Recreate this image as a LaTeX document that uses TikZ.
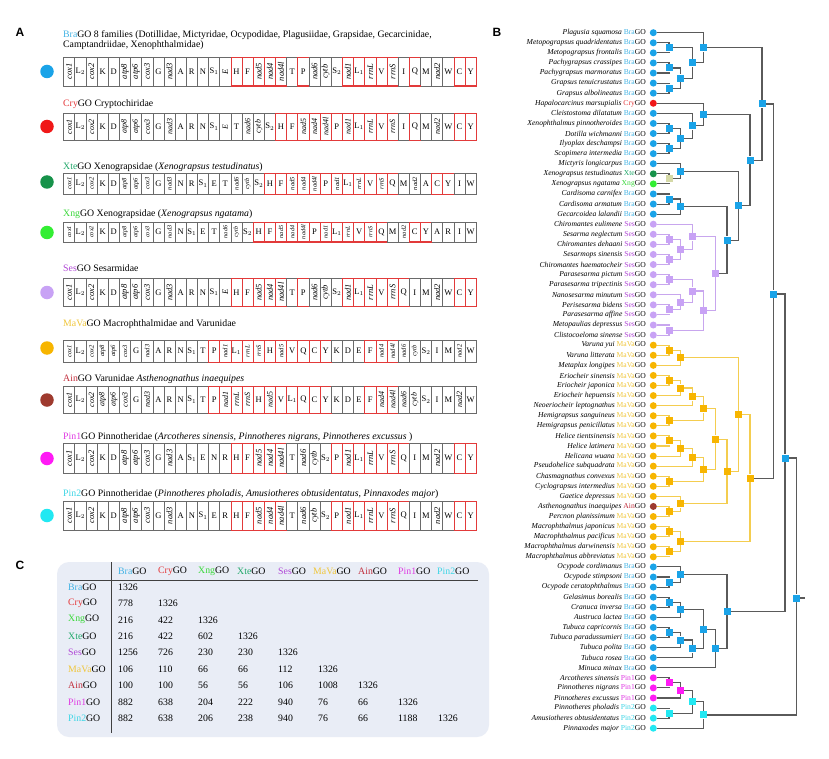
\documentclass[tikz,border=0pt]{standalone}
\usepackage{fontspec}
\setmainfont{Liberation Serif}
\setsansfont{Liberation Sans}

\definecolor{braDot}{HTML}{1AA3E8}
\definecolor{braTxt}{HTML}{45B4E5}
\definecolor{cryDot}{HTML}{F01818}
\definecolor{cryTxt}{HTML}{E5393B}
\definecolor{xteDot}{HTML}{17924A}
\definecolor{xteTxt}{HTML}{21A86A}
\definecolor{xngDot}{HTML}{33EE33}
\definecolor{xngTxt}{HTML}{3AD83A}
\definecolor{sesDot}{HTML}{C8A2F5}
\definecolor{sesTxt}{HTML}{B047D6}
\definecolor{mavaDot}{HTML}{F7B500}
\definecolor{mavaTxt}{HTML}{F0C63A}
\definecolor{ainDot}{HTML}{9E3A2E}
\definecolor{ainTxt}{HTML}{C22F3D}
\definecolor{pinADot}{HTML}{FF1AF5}
\definecolor{pinATxt}{HTML}{E03BE3}
\definecolor{pinBDot}{HTML}{22E8F2}
\definecolor{pinBTxt}{HTML}{3ED6E6}
\definecolor{xenoDot}{HTML}{D5D9A6}
\definecolor{sesLine}{HTML}{C8A6EE}
\definecolor{mavaLine}{HTML}{F4CD4F}
\definecolor{lineC}{HTML}{5A5A5A}
\definecolor{boxC}{HTML}{6A6A6A}
\definecolor{redC}{HTML}{E23A3A}
\definecolor{tblbg}{HTML}{E9EDF6}

\tikzset{
  gbox/.style={draw=boxC, line width=0.6pt, minimum width=11.15pt, inner sep=0pt, anchor=north west, font=\fontsize{8.5}{8.5}\selectfont},
  gboxb/.style={gbox},
  gboxr/.style={gbox, draw=redC},
  redbar/.style={draw=redC, line width=1.6pt},
  adot/.style={circle, inner sep=0pt, minimum size=13.5pt},
  ttl/.style={anchor=west, inner sep=0pt, font=\fontsize{9.8}{10.5}\selectfont},
  panel/.style={inner sep=0pt, font=\sffamily\bfseries\fontsize{12}{12}\selectfont},
  leaf/.style={circle, inner sep=0pt, minimum size=7pt},
  inode/.style={rectangle, inner sep=0pt, minimum size=7pt},
  tiplab/.style={anchor=east, inner sep=0pt, font=\fontsize{7.6}{8}\selectfont},
  br/.style={draw=lineC, line width=1.1pt},
  brs/.style={draw=sesLine, line width=1.1pt},
  brm/.style={draw=mavaLine, line width=1.1pt},
  cell/.style={anchor=west, inner sep=0pt, font=\fontsize{9.8}{10}\selectfont},
  tblline/.style={draw=black!75, line width=1pt}
}

\newcommand{\grot}[1]{\rotatebox{90}{\fontsize{\rotfs}{\rotfs}\selectfont\itshape #1}}
\newcommand{\generow}[6]{%
  \def\rotfs{#4}%
  \foreach \g/\k [count=\i] in {#5} {
    \draw ({63.3 + (\i - 1) * 11.15}, #2) node[gbox\k, minimum height=#3] (#1\i) {\g};
  }
  \foreach \a/\b in {#6} {
    \draw[redbar] (#1\a.south west) -- (#1\b.south east);
  }
}

\begin{document}
\begin{tikzpicture}[x=1pt, y=-1pt]
    \fill[white] (0, 0) rectangle (829, 759);
    \useasboundingbox (0, 0) rectangle (829, 759);

    \draw (20, 32.7) node[panel] (pA) {A};
    \draw (497, 32.7) node[panel] (pB) {B};
    \draw (20, 565) node[panel] (pC) {C};

    % panel A
    \draw (63, 40.2) node[ttl, align=left] (ttlBra) {\textcolor{braTxt}{Bra}GO 8 families (Dotillidae, Mictyridae, Ocypodidae, Plagusiidae, Grapsidae, Gecarcinidae,\\Camptandriidae, Xenophthalmidae)};
    \draw (63, 104) node[ttl] (ttlCry) {\textcolor{cryTxt}{Cry}GO Cryptochiridae};
    \draw (63, 166.7) node[ttl] (ttlXte) {\textcolor{xteTxt}{Xte}GO Xenograpsidae (\textit{Xenograpsus testudinatus})};
    \draw (63, 214) node[ttl] (ttlXng) {\textcolor{xngTxt}{Xng}GO Xenograpsidae (\textit{Xenograpsus ngatama})};
    \draw (63, 268) node[ttl] (ttlSes) {\textcolor{sesTxt}{Ses}GO Sesarmidae};
    \draw (63, 324) node[ttl] (ttlMaVa) {\textcolor{mavaTxt}{MaVa}GO Macrophthalmidae and Varunidae};
    \draw (63, 379) node[ttl] (ttlAin) {\textcolor{ainTxt}{Ain}GO Varunidae \textit{Asthenognathus inaequipes}};
    \draw (63, 436.7) node[ttl] (ttlPinA) {\textcolor{pinATxt}{Pin1}GO Pinnotheridae (\textit{Arcotheres sinensis, Pinnotheres nigrans, Pinnotheres excussus} )};
    \draw (63, 494.5) node[ttl] (ttlPinB) {\textcolor{pinBTxt}{Pin2}GO Pinnotheridae (\textit{Pinnotheres pholadis, Amusiotheres obtusidentatus, Pinnaxodes major})};

    \foreach \c/\y in {bra/71.5, cry/126.5, xte/182, xng/232.5, ses/292.5, mava/348, ain/400, pinA/458.5, pinB/515.5}
        \draw (47, \y) node[adot, fill=\c Dot] (d\c) {};

    \generow{bra}{56.7}{29pt}{8.5}{\grot{cox1}/b, L$_2$/b, \grot{cox2}/b, K/b, D/b, \grot{atp8}/b, \grot{atp6}/b, \grot{cox3}/b, G/b, \grot{nad3}/b, A/b, R/b, N/b, S$_1$/b, \grot{E}/b, H/r, F/r, \grot{nad5}/r, \grot{nad4}/r, \grot{nad4l}/r, T/b, P/r, \grot{nad6}/b, \grot{cytb}/b, S$_2$/b, \grot{nad1}/r, L$_1$/r, \grot{rrnL}/r, V/r, \grot{rrnS}/r, I/b, Q/r, M/b, \grot{nad2}/b, W/b, C/r, Y/r}{16/20, 22/22, 26/30, 32/32, 36/37}
    \generow{cry}{112.7}{27.3pt}{8}{\grot{cox1}/b, L$_2$/b, \grot{cox2}/b, K/b, D/b, \grot{atp8}/b, \grot{atp6}/b, \grot{cox3}/b, G/b, \grot{nad3}/b, A/b, R/b, N/b, S$_1$/b, \grot{E}/b, T/b, \grot{nad6}/b, \grot{cytb}/b, S$_2$/b, H/r, F/r, \grot{nad5}/r, \grot{nad4}/r, \grot{nad4l}/r, P/r, \grot{nad1}/r, L$_1$/r, \grot{rrnL}/r, V/r, \grot{rrnS}/r, I/b, Q/r, M/b, \grot{nad2}/b, W/b, C/r, Y/r}{20/30, 32/32, 36/37}
    \generow{xte}{172.7}{21.3pt}{6.5}{\grot{cox1}/b, L$_2$/b, \grot{cox2}/b, K/b, D/b, \grot{atp8}/b, \grot{atp6}/b, \grot{cox3}/b, G/b, \grot{nad3}/b, N/b, R/b, S$_1$/b, E/b, T/b, \grot{nad6}/b, \grot{cytb}/b, S$_2$/b, H/r, F/r, \grot{nad5}/r, \grot{nad4}/r, \grot{nad4l}/r, P/r, \grot{nad1}/r, L$_1$/r, \grot{rrnL}/r, V/r, \grot{rrnS}/r, Q/r, M/b, \grot{nad2}/b, A/b, C/r, Y/r, I/b, W/b}{19/30, 34/35}
    \generow{xng}{221.7}{20pt}{6.2}{\grot{cox1}/b, L$_2$/b, \grot{cox2}/b, K/b, D/b, \grot{atp8}/b, \grot{atp6}/b, \grot{cox3}/b, G/b, \grot{nad3}/b, N/b, S$_1$/b, E/b, T/b, \grot{nad6}/b, \grot{cytb}/b, S$_2$/b, H/r, F/r, \grot{nad5}/r, \grot{nad4}/r, \grot{nad4l}/r, P/r, \grot{nad1}/r, L$_1$/r, \grot{rrnL}/r, V/r, \grot{rrnS}/r, Q/r, M/b, \grot{nad2}/b, C/r, Y/r, A/b, R/b, I/b, W/b}{18/29, 32/33}
    \generow{ses}{278}{28pt}{8.5}{\grot{cox1}/b, L$_2$/b, \grot{cox2}/b, K/b, D/b, \grot{atp8}/b, \grot{atp6}/b, \grot{cox3}/b, G/b, \grot{nad3}/b, A/b, R/b, N/b, S$_1$/b, \grot{E}/b, H/r, F/r, \grot{nad5}/r, \grot{nad4}/r, \grot{nad4l}/r, T/b, P/r, \grot{nad6}/b, \grot{cytb}/b, S$_2$/b, \grot{nad1}/r, L$_1$/r, \grot{rrnL}/r, V/r, \grot{rrnS}/r, Q/r, I/b, M/b, \grot{nad2}/b, W/b, C/r, Y/r}{16/20, 22/22, 26/31, 36/37}
    \generow{mava}{340}{21.7pt}{6.5}{\grot{cox1}/b, L$_2$/b, \grot{cox2}/b, \grot{atp8}/b, \grot{atp6}/b, \grot{cox3}/b, G/b, \grot{nad3}/b, A/b, R/b, N/b, S$_1$/b, T/b, P/r, \grot{nad1}/r, L$_1$/r, \grot{rrnL}/r, \grot{rrnS}/r, H/r, \grot{nad5}/r, V/r, Q/r, C/r, Y/r, K/b, D/b, E/b, F/r, \grot{nad4}/r, \grot{nad4l}/r, \grot{nad6}/b, \grot{cytb}/b, S$_2$/b, I/b, M/b, \grot{nad2}/b, W/b}{14/24}
    \generow{ain}{386}{26.7pt}{8}{\grot{cox1}/b, L$_2$/b, \grot{cox2}/b, \grot{atp8}/b, \grot{atp6}/b, \grot{cox3}/b, G/b, \grot{nad3}/b, A/b, R/b, N/b, S$_1$/b, T/b, P/r, \grot{nad1}/r, \grot{rrnL}/r, \grot{rrnS}/r, H/r, \grot{nad5}/r, V/r, L$_1$/r, Q/r, C/r, Y/r, K/b, D/b, E/b, F/r, \grot{nad4}/r, \grot{nad4l}/r, \grot{nad6}/b, \grot{cytb}/b, S$_2$/b, I/b, M/b, \grot{nad2}/b, W/b}{14/24}
    \generow{pinA}{443}{29.7pt}{8.5}{\grot{cox1}/b, L$_2$/b, \grot{cox2}/b, K/b, D/b, \grot{atp8}/b, \grot{atp6}/b, \grot{cox3}/b, G/b, \grot{nad3}/b, A/b, S$_1$/b, E/b, N/b, R/b, H/r, F/r, \grot{nad5}/r, \grot{nad4}/r, \grot{nad4l}/r, T/b, \grot{nad6}/b, \grot{cytb}/b, S$_2$/b, P/r, \grot{nad1}/r, L$_1$/r, \grot{rrnL}/r, V/r, \grot{rrnS}/r, Q/r, I/b, M/b, \grot{nad2}/b, W/b, C/r, Y/r}{16/20, 25/31, 36/37}
    \generow{pinB}{500.7}{29.3pt}{8.5}{\grot{cox1}/b, L$_2$/b, \grot{cox2}/b, K/b, D/b, \grot{atp8}/b, \grot{atp6}/b, \grot{cox3}/b, G/b, \grot{nad3}/b, A/b, N/b, S$_1$/b, E/b, R/b, H/r, F/r, \grot{nad5}/r, \grot{nad4}/r, \grot{nad4l}/r, T/b, \grot{nad6}/b, \grot{cytb}/b, S$_2$/b, P/r, \grot{nad1}/r, L$_1$/r, \grot{rrnL}/r, V/r, \grot{rrnS}/r, Q/r, I/b, M/b, \grot{nad2}/b, W/b, C/r, Y/r}{16/20, 25/31, 36/37}

    % panel C
    \fill[tblbg, rounded corners=12pt] (57, 562) rectangle (489, 737);
    \draw[tblline] (111, 562) -- (111, 733);
    \draw[tblline] (70, 580.7) -- (478, 580.7);
    \foreach \n/\c/\x [count=\j] in {Bra/bra/118, Cry/cry/158, Xng/xng/198, Xte/xte/237, Ses/ses/278, MaVa/mava/313, Ain/ain/358, Pin1/pinA/398, Pin2/pinB/437} {
        \draw (\x, 571.7) node[cell] (h\j) {\textcolor{\c Txt}{\n}GO};
        \draw (68, {587 + (\j - 1) * 16.4}) node[cell] (r\j) {\textcolor{\c Txt}{\n}GO};
    }
    \foreach \vals [count=\j] in {{1326}, {778, 1326}, {216, 422, 1326}, {216, 422, 602, 1326}, {1256, 726, 230, 230, 1326}, {106, 110, 66, 66, 112, 1326}, {100, 100, 56, 56, 106, 1008, 1326}, {882, 638, 204, 222, 940, 76, 66, 1326}, {882, 638, 206, 238, 940, 76, 66, 1188, 1326}}
        \foreach \v [count=\k] in \vals
            \draw ({118 + (\k - 1) * 40}, {587 + (\j - 1) * 16.4}) node[cell] (v\j-\k) {\v};

    % panel B
    \foreach \sp/\gp/\pf [count=\i] in {Plagusia squamosa/bra/Bra, Metopograpsus quadridentatus/bra/Bra, Metopograpsus frontalis/bra/Bra, Pachygrapsus crassipes/bra/Bra, Pachygrapsus marmoratus/bra/Bra, Grapsus tenuicrustatus/bra/Bra, Grapsus albolineatus/bra/Bra, Hapalocarcinus marsupialis/cry/Cry, Cleistostoma dilatatum/bra/Bra, Xenophthalmus pinnotheroides/bra/Bra, Dotilla wichmanni/bra/Bra, Ilyoplax deschampsi/bra/Bra, Scopimera intermedia/bra/Bra, Mictyris longicarpus/bra/Bra, Xenograpsus testudinatus/xte/Xte, Xenograpsus ngatama/xng/Xng, Cardisoma carnifex/bra/Bra, Cardisoma armatum/bra/Bra, Gecarcoidea lalandii/bra/Bra, Chiromantes eulimene/ses/Ses, Sesarma neglectum/ses/Ses, Chiromantes dehaani/ses/Ses, Sesarmops sinensis/ses/Ses, Chiromantes haematocheir/ses/Ses, Parasesarma pictum/ses/Ses, Parasesarma tripectinis/ses/Ses, Nanosesarma minutum/ses/Ses, Perisesarma bidens/ses/Ses, Parasesarma affine/ses/Ses, Metopaulias depressus/ses/Ses, Clistocoeloma sinense/ses/Ses, Varuna yui/mava/MaVa, Varuna litterata/mava/MaVa, Metaplax longipes/mava/MaVa, Eriocheir sinensis/mava/MaVa, Eriocheir japonica/mava/MaVa, Eriocheir hepuensis/mava/MaVa, Neoeriocheir leptognathus/mava/MaVa, Hemigrapsus sanguineus/mava/MaVa, Hemigrapsus penicillatus/mava/MaVa, Helice tientsinensis/mava/MaVa, Helice latimera/mava/MaVa, Helicana wuana/mava/MaVa, Pseudohelice subquadrata/mava/MaVa, Chasmagnathus convexus/mava/MaVa, Cyclograpsus intermedius/mava/MaVa, Gaetice depressus/mava/MaVa, Asthenognathus inaequipes/ain/Ain, Percnon planissimum/mava/MaVa, Macrophthalmus japonicus/mava/MaVa, Macrophthalmus pacificus/mava/MaVa, Macrophthalmus darwinensis/mava/MaVa, Macrophthalmus abbreviatus/mava/MaVa, Ocypode cordimanus/bra/Bra, Ocypode stimpsoni/bra/Bra, Ocypode ceratophthalmus/bra/Bra, Gelasimus borealis/bra/Bra, Cranuca inversa/bra/Bra, Austruca lactea/bra/Bra, Tubuca capricornis/bra/Bra, Tubuca paradussumieri/bra/Bra, Tubuca polita/bra/Bra, Tubuca rosea/bra/Bra, Minuca minax/bra/Bra, Arcotheres sinensis/pinA/Pin1, Pinnotheres nigrans/pinA/Pin1, Pinnotheres excussus/pinA/Pin1, Pinnotheres pholadis/pinB/Pin2, Amusiotheres obtusidentatus/pinB/Pin2, Pinnaxodes major/pinB/Pin2} {
        \draw (653.3, {32.7 + (\i - 1) * 10.08}) node[leaf, fill=\gp Dot] (t\i) {};
        \draw (646, {32.7 + (\i - 1) * 10.08}) node[tiplab] (l\i) {\textit{\sp} \textcolor{\gp Txt}{\pf}GO};
    }

    \foreach \n/\x/\y/\c in {a23/669/47.82/bra, a45/669/67.98/bra, a67/669/88.14/bra, a47/680.7/78.06/bra, a27/692.3/62.94/bra, a17/703.7/47.82/bra,
        b1011/669/128.46/bra, b1213/669/148.62/bra, b1013/680.7/138.54/bra, b913/692.3/125.94/bra, b813/703.7/114.6/bra,
        c1516/669/178.86/xeno, c1416/680.7/171.3/bra, d1718/669/199.02/bra, d1719/680.7/206.58/bra,
        s2122/669/239.34/ses, s2324/669/259.5/ses, s2124/680.7/249.42/ses, s2024/692.3/236.82/ses, s2526/669/279.66/ses, s2829/669/309.9/ses, s2729/680.7/302.34/ses, s2529/692.3/291/ses, s3031/669/330.06/ses, s2531/703.7/310.53/ses, s2031/715.5/273.68/ses,
        e1731/727/240.13/bra, e1431/738.5/205.72/bra, e831/750/160.16/bra, e131/762/103.99/bra,
        m3233/669/350.22/mava, m3234/680.7/357.78/mava, m3536/669/380.46/mava, m3537/680.7/388.02/mava, m3538/692.3/396.84/mava, m3940/669/420.78/mava, m3540/703.7/408.81/mava, m4142/669/440.94/mava, m4143/680.7/448.5/mava, m4144/692.3/457.32/mava, m4546/669/481.26/mava, m4146/703.7/469.29/mava, m3546/715.5/439.05/mava, m4849/669/511.5/mava, m4749/680.7/503.94/mava, m3549/727/471.5/mava, m3249/738.5/414.64/mava, m5051/669/531.66/mava, m5253/669/551.82/mava, m5053/680.7/541.74/mava, m3253/750/478.19/mava,
        f153/773.5/294/bra,
        g5556/669/582.06/bra, g5456/680.7/574.5/bra, g5758/669/602.22/bra, g5759/680.7/609.78/bra, g6061/669/632.46/bra, g6062/680.7/640.02/bra, g6063/692.3/648.84/bra, g5763/703.7/629.31/bra, g5764/715.5/648.53/bra, g5464/727/611.51/bra,
        h164/785/458/bra,
        p6566/669/682.86/pinA, p6567/680.7/690.42/pinA, p6869/669/713.1/pinB, p6569/692.3/701.76/pinB, p6570/703.7/714.99/pinB,
        root/796.7/598/bra}
        \draw (\x, \y) node[inode, fill=\c Dot] (\n) {};

    \foreach \a/\b in {t1/a17, t2/a23, t3/a23, t4/a45, t5/a45, t6/a67, t7/a67, a45/a47, a67/a47, a23/a27, a47/a27, a27/a17, a17/e131, e831/e131,
        t8/b813, t9/b913, t10/b1011, t11/b1011, t12/b1213, t13/b1213, b1011/b1013, b1213/b1013, b1013/b913, b913/b813, b813/e831, e1431/e831,
        t14/c1416, t15/c1516, t16/c1516, c1516/c1416, c1416/e1431, e1731/e1431,
        t17/d1718, t18/d1718, d1718/d1719, t19/d1719, d1719/e1731, s2031/e1731,
        e131/f153, m3253/f153, f153/h164, g5464/h164,
        t54/g5456, t55/g5556, t56/g5556, g5556/g5456, t57/g5758, t58/g5758, g5758/g5759, t59/g5759, t60/g6061, t61/g6061, g6061/g6062, t62/g6062, g6062/g6063, t63/g6063, g5759/g5763, g6063/g5763, g5763/g5764, t64/g5764, g5456/g5464, g5764/g5464,
        t65/p6566, t66/p6566, p6566/p6567, t67/p6567, p6567/p6569, p6869/p6569, t68/p6869, t69/p6869, p6569/p6570, t70/p6570, h164/root, p6570/root}
        \draw[br] (\a) -| (\b);

    \foreach \a/\b in {t20/s2024, s2124/s2024, t21/s2122, t22/s2122, t23/s2324, t24/s2324, s2122/s2124, s2324/s2124, t25/s2526, t26/s2526, t27/s2729, t28/s2829, t29/s2829, s2829/s2729, s2526/s2529, s2729/s2529, t30/s3031, t31/s3031, s2529/s2531, s3031/s2531, s2024/s2031, s2531/s2031}
        \draw[brs] (\a) -| (\b);

    \foreach \a/\b in {t32/m3233, t33/m3233, m3233/m3234, t34/m3234, t35/m3536, t36/m3536, m3536/m3537, t37/m3537, m3537/m3538, t38/m3538, t39/m3940, t40/m3940, m3538/m3540, m3940/m3540, t41/m4142, t42/m4142, m4142/m4143, t43/m4143, m4143/m4144, t44/m4144, t45/m4546, t46/m4546, m4144/m4146, m4546/m4146, m3540/m3546, m4146/m3546, t48/m4849, t49/m4849, t47/m4749, m4849/m4749, m3546/m3549, m4749/m3549, m3234/m3249, m3549/m3249, m3249/m3253, t50/m5051, t51/m5051, t52/m5253, t53/m5253, m5051/m5053, m5253/m5053, m5053/m3253}
        \draw[brm] (\a) -| (\b);

    \coordinate (rstub) at (805, 598);
    \draw[br] (root) -- (rstub);
\end{tikzpicture}
\end{document}
